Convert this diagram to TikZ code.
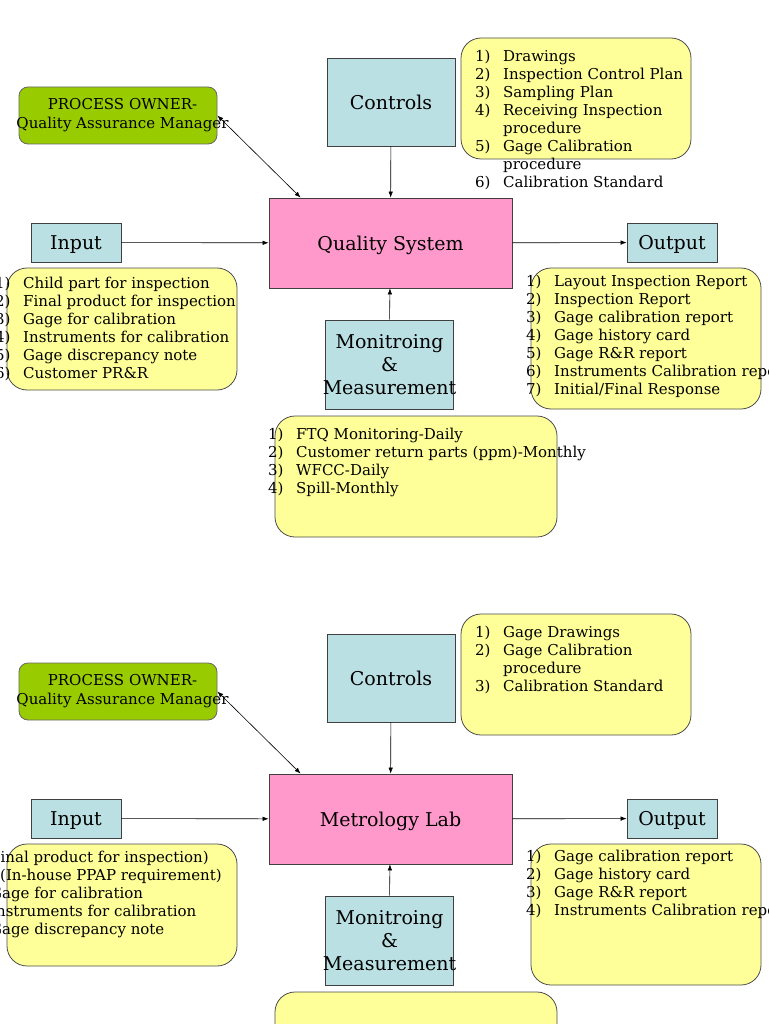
\documentclass[tikz,border=0pt]{standalone}
\usepackage{fontspec}
\setmainfont{DejaVu Serif}
\usetikzlibrary{arrows.meta}
\definecolor{ownergreen}{HTML}{99CC00}
\definecolor{blockblue}{HTML}{BBE0E3}
\definecolor{systempink}{HTML}{FF99CC}
\definecolor{noteyellow}{HTML}{FFFF99}
\newcommand\itemno[1]{\makebox[28pt][l]{#1}}
\newcommand\itemcont{\hspace*{28pt}}
\tikzset{
	block/.style={draw=black!75, fill=blockblue, line width=0.8pt, inner sep=0pt, align=center, text depth=0pt, font=\fontsize{19}{23}\selectfont},
	blocktext/.style={inner sep=0pt, align=center, font=\fontsize{19}{23}\selectfont},
	system/.style={block, fill=systempink, minimum width=243pt, minimum height=90pt},
	owner/.style={draw=black!60, fill=ownergreen, rounded corners=9pt, line width=0.8pt, minimum width=198pt, minimum height=57pt},
	ownertext/.style={align=center, inner sep=0pt, font=\fontsize{15}{19}\selectfont},
	note/.style={draw=black!70, fill=noteyellow, rounded corners=20pt, line width=0.8pt},
	notetext/.style={anchor=north west, align=left, inner sep=0pt, font=\fontsize{15}{18}\selectfont},
	flow/.style={->, >={Latex[length=6pt,width=4.5pt]}, line width=0.6pt}
}
\begin{document}
\begin{tikzpicture}[x=1pt, y=-1pt]
	\useasboundingbox (0,0) rectangle (768,1024);
	\clip (0,0) rectangle (768,1024);

	\node[owner] (owner1) at (118,115.5) {};
	\node[ownertext] (ownerlabel1) at (122.5,115) {PROCESS OWNER-\\Quality Assurance Manager};
	\node[block, minimum width=128pt, minimum height=88pt] (ctrl1) at (391,102) {Controls};
	\node[system] (sys1) at (390.5,243) {Quality System};
	\node[block, minimum width=90pt, minimum height=39pt] (in1) at (76,242.5) {Input};
	\node[block, minimum width=90pt, minimum height=39pt] (out1) at (672,242.5) {Output};
	\node[block, minimum width=128pt, minimum height=89pt] (mon1) at (389,364.5) {};
	\node[blocktext] (monlabel1) at (389.5,365) {Monitroing\\\&\\Measurement};
	\draw[note] (461,38) rectangle (691,159);
	\node[notetext] (ctrlnote1) at (475,50) {\itemno{1)}Drawings\\\itemno{2)}Inspection Control Plan\\\itemno{3)}Sampling Plan\\\itemno{4)}Receiving Inspection\\\itemcont procedure\\\itemno{5)}Gage Calibration\\\itemcont procedure\\\itemno{6)}Calibration Standard};
	\draw[note] (7,268) rectangle (237,390);
	\node[notetext] (innote1) at (-5,277) {\itemno{1)}Child part for inspection\\\itemno{2)}Final product for inspection\\\itemno{3)}Gage for calibration\\\itemno{4)}Instruments for calibration\\\itemno{5)}Gage discrepancy note\\\itemno{6)}Customer PR\&R};
	\draw[note] (531,268) rectangle (761,409);
	\node[notetext] (outnote1) at (526,275) {\itemno{1)}Layout Inspection Report\\\itemno{2)}Inspection Report\\\itemno{3)}Gage calibration report\\\itemno{4)}Gage history card\\\itemno{5)}Gage R\&R report\\\itemno{6)}Instruments Calibration report\\\itemno{7)}Initial/Final Response};
	\draw[note] (275,416) rectangle (557,537);
	\node[notetext] (monnote1) at (268,428) {\itemno{1)}FTQ Monitoring-Daily\\\itemno{2)}Customer return parts (ppm)-Monthly\\\itemno{3)}WFCC-Daily\\\itemno{4)}Spill-Monthly};
	\draw[flow, <->] (owner1.east) -- ([xshift=32pt]sys1.north west);
	\draw[flow] (ctrl1) -- (sys1);
	\draw[flow] (in1) -- (sys1);
	\draw[flow] (sys1) -- (out1);
	\draw[flow] (mon1) -- (sys1);

	\begin{scope}[shift={(0,576)}]
		\node[owner] (owner2) at (118,115.5) {};
		\node[ownertext] (ownerlabel2) at (122.5,115) {PROCESS OWNER-\\Quality Assurance Manager};
		\node[block, minimum width=128pt, minimum height=88pt] (ctrl2) at (391,102) {Controls};
		\node[system] (sys2) at (390.5,243) {Metrology Lab};
		\node[block, minimum width=90pt, minimum height=39pt] (in2) at (76,242.5) {Input};
		\node[block, minimum width=90pt, minimum height=39pt] (out2) at (672,242.5) {Output};
		\node[block, minimum width=128pt, minimum height=89pt] (mon2) at (389,364.5) {};
		\node[blocktext] (monlabel2) at (389.5,365) {Monitroing\\\&\\Measurement};
		\draw[note] (461,38) rectangle (691,159);
		\node[notetext] (ctrlnote2) at (475,50) {\itemno{1)}Gage Drawings\\\itemno{2)}Gage Calibration\\\itemcont procedure\\\itemno{3)}Calibration Standard};
		\draw[note] (7,268) rectangle (237,390);
		\node[notetext] (innote2) at (-10,275) {Final product for inspection)\\\hspace*{10pt}(In-house PPAP requirement)\\Gage for calibration\\Instruments for calibration\\Gage discrepancy note};
		\draw[note] (531,268) rectangle (761,409);
		\node[notetext] (outnote2) at (526,274) {\itemno{1)}Gage calibration report\\\itemno{2)}Gage history card\\\itemno{3)}Gage R\&R report\\\itemno{4)}Instruments Calibration report};
		\draw[note] (275,416) rectangle (557,537);
		\draw[flow, <->] (owner2.east) -- ([xshift=32pt]sys2.north west);
		\draw[flow] (ctrl2) -- (sys2);
		\draw[flow] (in2) -- (sys2);
		\draw[flow] (sys2) -- (out2);
		\draw[flow] (mon2) -- (sys2);
	\end{scope}
\end{tikzpicture}
\end{document}
